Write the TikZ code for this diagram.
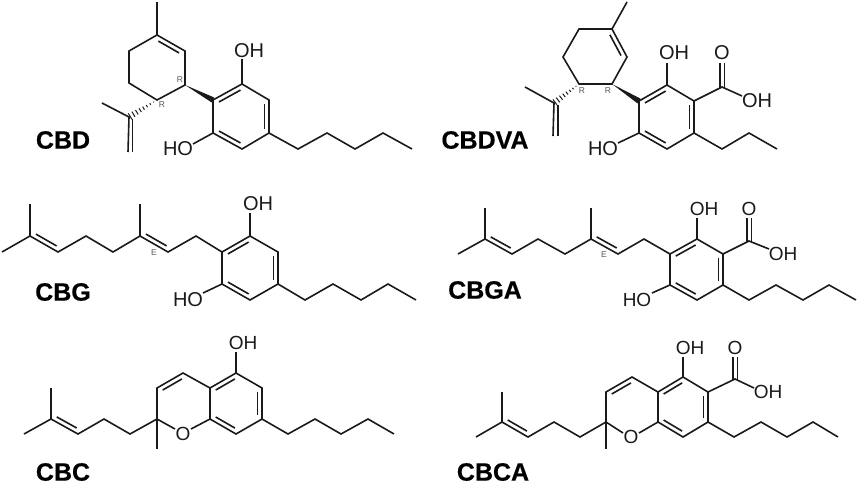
\documentclass[tikz,border=0pt]{standalone}
\usepackage{fontspec}
\setmainfont{Liberation Sans}
\newfontfamily\namefont[FakeBold=0.5]{Liberation Sans Bold}
\usetikzlibrary{calc}
\definecolor{ink}{HTML}{1A1A1A}
\tikzset{
  bond/.style={draw=ink,line width=1.6pt,line join=miter,line cap=butt},
  atomlab/.style={inner sep=0pt,text=ink,font=\fontsize{20}{20}\selectfont},
  atomlabs/.style={inner sep=0pt,text=ink,font=\fontsize{19}{19}\selectfont},
  namelab/.style={inner sep=0pt,text=black,font=\fontsize{25}{25}\selectfont\namefont},
  stereolab/.style={inner sep=0pt,text=black!65,font=\fontsize{8.5}{8.5}\selectfont}
}
\newcommand{\pts}[1]{\foreach \n/\x/\y in {#1} {\coordinate (\n) at (\x,\y);}}
% inner line of a double bond: a, b, side
\newcommand{\dbl}[3]{\draw[bond] ($(#1)!.13!(#2)!4.6pt!#3:(#2)$) -- ($(#1)!.87!(#2)!4.6pt!#3:(#2)$);}
\newcommand{\wedgeb}[2]{\fill[ink] (#1) -- ($(#2)!2.8pt!90:(#1)$) -- ($(#2)!2.8pt!-90:(#1)$) -- cycle;}
\newcommand{\hashb}[2]{\foreach \t in {.12,.24,.36,.48,.60,.72,.84,.96} {
  \pgfmathsetmacro\w{\t*3.6}
  \draw[draw=ink,line width=1pt] ($(#1)!\t!(#2)!\w pt!90:(#2)$) -- ($(#1)!\t!(#2)!\w pt!-90:(#2)$);}}
\begin{document}
\begin{tikzpicture}[x=1pt,y=-1pt]
\useasboundingbox (0,0) rectangle (858,485);
\fill[white] (0,0) rectangle (858,485);

% ---------- CBD
\pts{dm/157/2,dc1/157/35,dc2/185/51,dc3/185/85,dc4/157/100}
\pts{dc5/129/83,dc6/129/51,di/129/117,dim/102/103,dch/128/152,dchb/132.5/152,dib/132.5/119}
\pts{da1/213/100,da2/242/84,da3/269/100,da4/269/133,da5/242/149,da6/213/133}
\pts{dohe/242/59,dhoe/193/144,dp1/298/149,dp2/327/133,dp3/355/149,dp4/383/133,dp5/412/149}
\draw[bond] (dm) -- (dc1);
\draw[bond] (dc1) -- (dc2) -- (dc3) -- (dc4) -- (dc5) -- (dc6) -- cycle;
\dbl{dc1}{dc2}{-90}
\draw[bond] (dim) -- (di) -- (dch);
\draw[bond] (dib) -- (dchb);
\hashb{dc4}{di}
\wedgeb{dc3}{da1}
\draw[bond] (da1) -- (da2) -- (da3) -- (da4) -- (da5) -- (da6) -- cycle;
\dbl{da1}{da2}{-90}\dbl{da3}{da4}{-90}\dbl{da5}{da6}{-90}
\node[atomlab] (dOH) at (249,51) {OH};
\node[atomlab] (dHO) at (178,149) {HO};
\draw[bond] (da2) -- (dohe);
\draw[bond] (da6) -- (dhoe);
\draw[bond] (da4) -- (dp1) -- (dp2) -- (dp3) -- (dp4) -- (dp5);
\node[stereolab] (dR1) at (180,80) {R};
\node[stereolab] (dR2) at (162,105) {R};
\node[namelab] (dname) at (63,140) {CBD};

% ---------- CBDVA
\pts{vm/627/2,vc1/612/29,vc2/627/57,vc3/612/84,vc4/579/84,vc5/563/57,vc6/579/29,vi/554/103,vim/525/87}
\pts{vch/553/136,vchb/558/136,vib/558/105}
\pts{va1/639/101,va2/667/85,va3/694/101,va4/694/133,va5/667/149,va6/639/133}
\pts{vohe/667/63,vhoe/618/143,vC/722/87,vOa/719.7/63,vOb/724.3/63,vCa/719.7/88,vCb/724.3/88,voe/742/96,vp1/722/149,vp2/749/133,vp3/777/149}
\draw[bond] (vm) -- (vc1);
\draw[bond] (vc1) -- (vc2) -- (vc3) -- (vc4) -- (vc5) -- (vc6) -- cycle;
\dbl{vc1}{vc2}{-90}
\draw[bond] (vim) -- (vi) -- (vch);
\draw[bond] (vib) -- (vchb);
\hashb{vc4}{vi}
\wedgeb{vc3}{va1}
\draw[bond] (va1) -- (va2) -- (va3) -- (va4) -- (va5) -- (va6) -- cycle;
\dbl{va1}{va2}{-90}\dbl{va3}{va4}{-90}\dbl{va5}{va6}{-90}
\node[atomlab] (vOH) at (674,53) {OH};
\node[atomlab] (vHO) at (603,149) {HO};
\node[atomlab] (vO) at (722,53) {O};
\node[atomlab] (vOH2) at (757,101) {OH};
\draw[bond] (va2) -- (vohe);
\draw[bond] (va6) -- (vhoe);
\draw[bond] (va3) -- (vC) -- (voe);
\draw[bond] (vCa) -- (vOa);
\draw[bond] (vCb) -- (vOb);
\draw[bond] (va4) -- (vp1) -- (vp2) -- (vp3);
\node[stereolab] (vR1) at (582,91) {R};
\node[stereolab] (vR2) at (608,91) {R};
\node[namelab] (vname) at (485,140) {CBDVA};

% ---------- CBG
\pts{g1/2/252,g2/30/236,gm1/30/204,g3/58/252,g4/86/236,g5/113/252,g6/140/236,gm2/140/204,g7/168/252,g8/196/236}
\pts{ga1/222/252,ga2/250/236,ga3/278/252,ga4/278/284,ga5/250/300,ga6/222/284}
\pts{gohe/250/213,ghoe/203/293,gp1/305/300,gp2/333/284,gp3/361/300,gp4/388/284,gp5/416/300}
\draw[bond] (g1) -- (g2) -- (g3) -- (g4) -- (g5) -- (g6) -- (g7) -- (g8) -- (ga1);
\draw[bond] (gm1) -- (g2);
\draw[bond] (gm2) -- (g6);
\dbl{g2}{g3}{90}\dbl{g6}{g7}{90}
\draw[bond] (ga1) -- (ga2) -- (ga3) -- (ga4) -- (ga5) -- (ga6) -- cycle;
\dbl{ga1}{ga2}{-90}\dbl{ga3}{ga4}{-90}\dbl{ga5}{ga6}{-90}
\node[atomlab] (gOH) at (258,204) {OH};
\node[atomlab] (gHO) at (188,300) {HO};
\draw[bond] (ga2) -- (gohe);
\draw[bond] (ga6) -- (ghoe);
\draw[bond] (ga4) -- (gp1) -- (gp2) -- (gp3) -- (gp4) -- (gp5);
\node[stereolab] (gE) at (154,253) {E};
\node[namelab] (gname) at (63,292) {CBG};

% ---------- CBGA
\pts{h1/458/254,h2/485/239,hm1/485/208,h3/512/254,h4/538/239,h5/565/254,h6/591/239,hm2/591/208,h7/618/254,h8/644/239}
\pts{ha1/670/254,ha2/697/239,ha3/723/254,ha4/723/285,ha5/697/300,ha6/670/285}
\pts{hohe/697/218,hhoe/652/293,hC/749/241,hOa/746.7/218,hOb/751.3/218,hCa/746.7/242,hCb/751.3/242,hoe/769/249}
\pts{hp1/749/300,hp2/776/285,hp3/803/300,hp4/829/285,hp5/856/300}
\draw[bond] (h1) -- (h2) -- (h3) -- (h4) -- (h5) -- (h6) -- (h7) -- (h8) -- (ha1);
\draw[bond] (hm1) -- (h2);
\draw[bond] (hm2) -- (h6);
\dbl{h2}{h3}{90}\dbl{h6}{h7}{90}
\draw[bond] (ha1) -- (ha2) -- (ha3) -- (ha4) -- (ha5) -- (ha6) -- cycle;
\dbl{ha1}{ha2}{-90}\dbl{ha3}{ha4}{-90}\dbl{ha5}{ha6}{-90}
\node[atomlabs] (hOH) at (704,209) {OH};
\node[atomlabs] (hHO) at (637,300) {HO};
\node[atomlabs] (hO) at (749,209) {O};
\node[atomlabs] (hOH2) at (783,254) {OH};
\draw[bond] (ha2) -- (hohe);
\draw[bond] (ha6) -- (hhoe);
\draw[bond] (ha3) -- (hC) -- (hoe);
\draw[bond] (hCa) -- (hOa);
\draw[bond] (hCb) -- (hOb);
\draw[bond] (ha4) -- (hp1) -- (hp2) -- (hp3) -- (hp4) -- (hp5);
\node[stereolab] (hE) at (604,255) {E};
\node[namelab] (hname) at (485,290) {CBGA};

% ---------- CBC
\pts{c1/24/434,c2/51/419,cm1/51/388,c3/78/434,c4/104/419,c5/130/434,c6/157/419,cm2/157/449,c7/157/388,c8/183/373}
\pts{ca1/210/388,ca2/236/373,ca3/262/388,ca4/262/419,ca5/236/434,ca6/210/419}
\pts{cohe/236/352,cob1/175/429,cob2/191/429,cp1/288/434,cp2/315/419,cp3/341/434,cp4/368/419,cp5/394/434}
\draw[bond] (c1) -- (c2) -- (c3) -- (c4) -- (c5) -- (c6) -- (c7) -- (c8) -- (ca1);
\draw[bond] (cm1) -- (c2);
\draw[bond] (c6) -- (cm2);
\draw[bond] (ca1) -- (ca6);
\dbl{c2}{c3}{90}\dbl{c7}{c8}{-90}
\draw[bond] (ca1) -- (ca2) -- (ca3) -- (ca4) -- (ca5) -- (ca6);
\dbl{ca1}{ca2}{-90}\dbl{ca3}{ca4}{-90}\dbl{ca5}{ca6}{-90}
\node[atomlabs] (cOH) at (243,343) {OH};
\node[atomlabs] (cO) at (183,434) {O};
\draw[bond] (ca2) -- (cohe);
\draw[bond] (c6) -- (cob1);
\draw[bond] (ca6) -- (cob2);
\draw[bond] (ca4) -- (cp1) -- (cp2) -- (cp3) -- (cp4) -- (cp5);
\node[namelab] (cname) at (63,472) {CBC};

% ---------- CBCA
\pts{k1/476/437,k2/502/422,km1/502/392,k3/528/437,k4/554/422,k5/580/437,k6/606/422,km2/606/449,k7/606/392,k8/632/377}
\pts{ka1/658/392,ka2/683/377,ka3/708/392,ka4/708/422,ka5/683/437,ka6/658/422}
\pts{kohe/683/357,kob1/623/433,kob2/639/433,kC/735/379,kOa/732.7/357,kOb/737.3/357,kCa/732.7/380,kCb/737.3/380,koe/754/388}
\pts{kp1/734/437,kp2/761/422,kp3/787/437,kp4/813/422,kp5/838/437}
\draw[bond] (k1) -- (k2) -- (k3) -- (k4) -- (k5) -- (k6) -- (k7) -- (k8) -- (ka1);
\draw[bond] (km1) -- (k2);
\draw[bond] (k6) -- (km2);
\draw[bond] (ka1) -- (ka6);
\dbl{k2}{k3}{90}\dbl{k7}{k8}{-90}
\draw[bond] (ka1) -- (ka2) -- (ka3) -- (ka4) -- (ka5) -- (ka6);
\dbl{ka1}{ka2}{-90}\dbl{ka3}{ka4}{-90}\dbl{ka5}{ka6}{-90}
\node[atomlabs] (kOH) at (690,348) {OH};
\node[atomlabs] (kO) at (631,437) {O};
\node[atomlabs] (kO2) at (735,348) {O};
\node[atomlabs] (kOH2) at (768,392) {OH};
\draw[bond] (ka2) -- (kohe);
\draw[bond] (k6) -- (kob1);
\draw[bond] (ka6) -- (kob2);
\draw[bond] (ka3) -- (kC) -- (koe);
\draw[bond] (kCa) -- (kOa);
\draw[bond] (kCb) -- (kOb);
\draw[bond] (ka4) -- (kp1) -- (kp2) -- (kp3) -- (kp4) -- (kp5);
\node[namelab] (kname) at (493,472) {CBCA};
\end{tikzpicture}
\end{document}
